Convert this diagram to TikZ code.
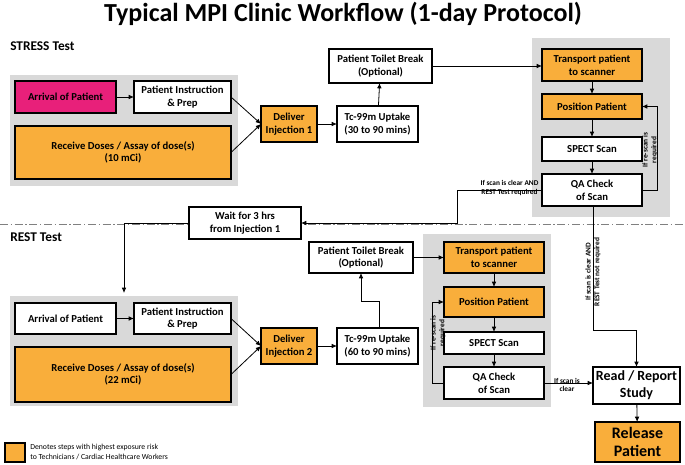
\documentclass[tikz,border=0pt]{standalone}
\usepackage{fontspec}
\setmainfont{Carlito}
\usetikzlibrary{arrows.meta,calc}
\definecolor{org}{HTML}{F9AE3B}
\definecolor{pnk}{HTML}{E8207A}
\definecolor{gry}{HTML}{D9D9D9}
\tikzset{
 box/.style={draw=black,line width=1.6pt,fill=white,align=center,inner sep=1pt,outer sep=0pt,font=\fontsize{8}{9.5}\selectfont\bfseries},
 hot/.style={fill=org},
 pink/.style={fill=pnk},
 grp/.style={fill=gry,draw=none},
 con/.style={line width=0.6pt,-{Latex[length=4pt,width=3.5pt]}},
 lin/.style={line width=0.6pt},
 lbl/.style={font=\fontsize{5.5}{6.5}\selectfont\bfseries,align=center,inner sep=1pt},
 sect/.style={font=\fontsize{10}{12}\selectfont\bfseries,anchor=west,inner sep=0pt}
}
\newcommand{\bx}[7]{\node[box,#6,minimum width={(#4-#2)*0.75pt},minimum height={(#5-#3)*0.75pt}] (#1) at ({(#2+#4)/2},{(#3+#5)/2}) {#7};}
\begin{document}
\begin{tikzpicture}[x=0.75pt,y=-0.75pt]
\useasboundingbox (0,0) rectangle (685,464);
% groups
\fill[gry] (10,75) rectangle (238,186);
\fill[gry] (532,38) rectangle (670,217);
\fill[gry] (10,296) rectangle (238,406);
\fill[gry] (423,234) rectangle (551,407);
\draw[gray,line width=0.6pt,dash pattern=on 6pt off 2pt on 1pt off 2pt] (0,224) -- (685,224);
% title
\node[font=\fontsize{19.5}{22}\selectfont\bfseries] (title) at (343,14) {Typical MPI Clinic Workflow (1-day Protocol)};
\node[sect] (st) at (10,46) {STRESS Test};
\node[sect] (rt) at (10,237) {REST Test};
% stress
\bx{arr1}{15}{81}{116}{113}{pink}{Arrival of Patient}
\bx{ins1}{134}{81}{231}{113}{}{Patient Instruction\\\& Prep}
\bx{rec1}{15}{126}{231}{179}{hot}{Receive Doses / Assay of dose(s)\\(10 mCi)}
\bx{del1}{261}{106}{317}{142}{hot}{Deliver\\Injection 1}
\bx{tc1}{337}{106}{418}{142}{}{Tc-99m Uptake\\(30 to 90 mins)}
\bx{toil1}{329}{49}{432}{83}{}{Patient Toilet Break\\(Optional)}
\bx{trans1}{542}{49}{642}{81}{hot}{Transport patient\\to scanner}
\bx{pos1}{542}{94}{642}{119}{hot}{Position Patient}
\bx{spect1}{542}{137}{642}{161}{}{SPECT Scan}
\bx{qa1}{542}{174}{642}{206}{}{QA Check\\of Scan}
\bx{wait}{189}{207}{301}{239}{}{Wait for 3 hrs\\from Injection 1}
% rest
\bx{arr2}{15}{303}{116}{334}{}{Arrival of Patient}
\bx{ins2}{134}{303}{231}{334}{}{Patient Instruction\\\& Prep}
\bx{rec2}{15}{347}{231}{402}{hot}{Receive Doses / Assay of dose(s)\\(22 mCi)}
\bx{del2}{261}{328}{317}{364}{hot}{Deliver\\Injection 2}
\bx{tc2}{337}{328}{418}{364}{}{Tc-99m Uptake\\(60 to 90 mins)}
\bx{toil2}{309}{242}{413}{273}{}{Patient Toilet Break\\(Optional)}
\bx{trans2}{444}{242}{544}{273}{hot}{Transport patient\\to scanner}
\bx{pos2}{444}{287}{544}{317}{hot}{Position Patient}
\bx{spect2}{444}{332}{544}{354}{}{SPECT Scan}
\bx{qa2}{444}{367}{544}{399}{}{QA Check\\of Scan}
\bx{read}{593}{367}{680}{404}{font=\fontsize{10.5}{12.5}\selectfont\bfseries}{Read / Report\\Study}
\bx{rel}{595}{422}{680}{462}{hot,font=\fontsize{12}{14}\selectfont\bfseries}{Release\\Patient}
\bx{leg}{5}{443}{25}{462}{hot,line width=1pt}{}
\node[anchor=west,font=\fontsize{5.8}{8.2}\selectfont,align=left,inner sep=0pt] (legt) at (30,452) {Denotes steps with highest exposure risk\\to Technicians / Cardiac Healthcare Workers};
% stress connectors
\draw[con] (arr1) -- (ins1);
\draw[con] (ins1.east) -- (del1.west);
\draw[con] (rec1.east) -- (del1.west);
\draw[con] (del1) -- (tc1);
\draw[con] (tc1) -- (toil1);
\draw[con] (toil1.east) -- (trans1.west |- toil1.east);
\draw[con] (trans1) -- (pos1);
\draw[con] (pos1) -- (spect1);
\draw[con] (spect1) -- (qa1);
\coordinate (rs1) at (657,190);
\draw[con] (qa1.east |- rs1) -- (rs1) |- (pos1.east);
\node[lbl,rotate=90] (rsl1) at (650,150) {If re-scan is\\required};
\coordinate (w1) at (457,190);
\draw[con] (qa1.west |- w1) -- (w1) |- (wait.east);
\node[lbl,anchor=south east] (wl) at (540,197) {If scan is clear AND\\REST Test required};
\coordinate (d1) at (124,293);
\draw[con] (wait.west) -| (d1);
% rest connectors
\draw[con] (arr2) -- (ins2);
\draw[con] (ins2.east) -- (del2.west);
\draw[con] (rec2.east) -- (del2.west);
\draw[con] (del2) -- (tc2);
\coordinate (u2) at (379,301);
\draw[con] (tc2.north -| u2) -- (u2) -| (toil2.south);
\draw[con] (toil2.east) -- (trans2.west);
\draw[con] (trans2) -- (pos2);
\draw[con] (pos2) -- (spect2);
\draw[con] (spect2) -- (qa2);
\coordinate (rs2) at (432,383);
\draw[con] (qa2.west) -- (rs2) |- (pos2.west);
\node[lbl,rotate=90] (rsl2) at (438,333) {If re-scan is\\required};
\draw[con] (qa2.east) -- (read.west |- qa2.east);
\node[lbl] (cl) at (567,385) {If scan is\\clear};
\coordinate (f1) at (593,330);
\draw[con] (qa1.south -| f1) -- (f1) -| (read.north);
\node[lbl,rotate=90] (fl) at (593,272) {If scan is clear AND\\REST Test not required};
\draw[con] (read) -- (rel);
\end{tikzpicture}
\end{document}
